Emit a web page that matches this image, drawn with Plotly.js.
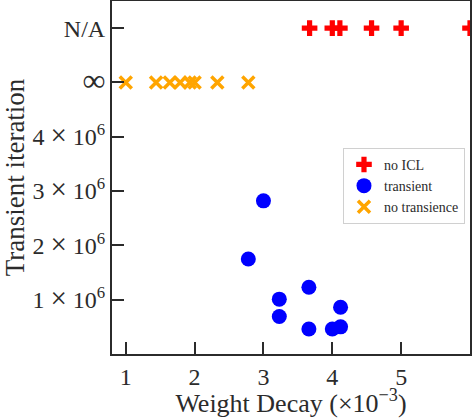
<!DOCTYPE html>
<html>
<head>
<meta charset="utf-8">
<script src="https://cdn.plot.ly/plotly-3.0.1.min.js"></script>
<style>html,body{margin:0;padding:0;background:#fff;}#chart{width:473px;height:418px;}</style>
</head>
<body>
<div id="chart"></div>
<script>
// ---- data ----
const noICL_x = [3.67, 4.0, 4.11, 4.57, 5.0, 6.0];
const noICL_y = [6e6, 6e6, 6e6, 6e6, 6e6, 6e6];          // plotted at the "N/A" level
const transient_x = [3.0, 2.78, 3.23, 3.23, 3.66, 3.66, 4.0, 4.12, 4.12];
const transient_y = [2.82e6, 1.75e6, 1.01e6, 0.69e6, 1.23e6, 0.46e6, 0.46e6, 0.50e6, 0.86e6];
const noTrans_x = [1.0, 1.44, 1.64, 1.79, 1.93, 2.0, 2.33, 2.78];
const noTrans_y = [5e6, 5e6, 5e6, 5e6, 5e6, 5e6, 5e6, 5e6]; // plotted at the "∞" level
const xTickVals = [1, 2, 3, 4, 5];
const xTickText = ['1', '2', '3', '4', '5'];
const yTickVals = [1e6, 2e6, 3e6, 4e6, 5e6, 6e6];
const TIMES = '\u00a0<span style="font-size:29px">×</span>\u00a0';
const yTickText = ['1' + TIMES + '10<sup>6</sup>', '2' + TIMES + '10<sup>6</sup>', '3' + TIMES + '10<sup>6</sup>',
                   '4' + TIMES + '10<sup>6</sup>', '<span style="font-size:32px">∞</span>', 'N/A'];

const FONT = 'Liberation Serif, DejaVu Serif, serif';
const INK = '#2b2b2b';

const traces = [
  {x: noICL_x, y: noICL_y, mode: 'markers', type: 'scatter', name: 'no ICL',
   marker: {symbol: 'cross', size: 13, color: '#ff0000', line: {width: 0}}},
  {x: transient_x, y: transient_y, mode: 'markers', type: 'scatter', name: 'transient',
   marker: {symbol: 'circle', size: 15, color: '#0000ff', line: {width: 0}}},
  {x: noTrans_x, y: noTrans_y, mode: 'markers', type: 'scatter', name: 'no transience',
   marker: {symbol: 'x-thin', size: 12, color: '#ffa500', line: {width: 3.5, color: '#ffa500'}}}
];

const layout = {
  width: 473, height: 418,
  margin: {l: 112, r: 3, t: 1, b: 64},
  paper_bgcolor: '#fff', plot_bgcolor: '#fff',
  font: {family: FONT, color: INK},
  showlegend: true,
  legend: {x: 0.986, xanchor: 'right', y: 0.584, yanchor: 'top',
           bgcolor: '#fff', bordercolor: '#d0d0d0', borderwidth: 1,
           font: {family: FONT, size: 14, color: INK}, tracegroupgap: 0},
  xaxis: {range: [0.8, 6.0], tickvals: xTickVals, ticktext: xTickText,
          ticks: 'inside', ticklen: 12, tickwidth: 2, tickcolor: INK,
          showline: true, linecolor: INK, linewidth: 2, mirror: true,
          showgrid: false, zeroline: false,
          tickfont: {family: FONT, size: 24, color: INK},
          title: {text: 'Weight Decay (×10<sup>−3</sup>)', font: {family: FONT, size: 26, color: INK}, standoff: 16}},
  yaxis: {range: [0, 6.5e6], tickvals: yTickVals, ticktext: yTickText,
          ticks: 'inside', ticklen: 12, tickwidth: 2, tickcolor: INK,
          showline: true, linecolor: INK, linewidth: 2, mirror: true,
          showgrid: false, zeroline: false,
          tickfont: {family: FONT, size: 24, color: INK},
          title: {text: 'Transient iteration', font: {family: FONT, size: 27, color: INK}, standoff: 9}}
};

Plotly.newPlot('chart', traces, layout, {displayModeBar: false, staticPlot: true});
</script>
</body>
</html>
